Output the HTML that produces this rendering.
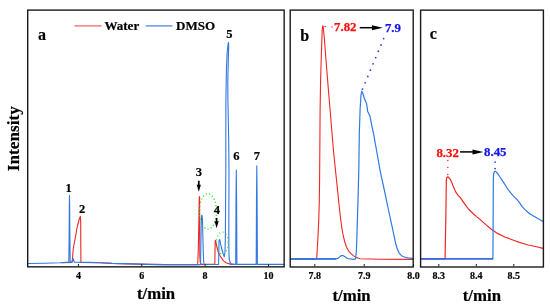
<!DOCTYPE html>
<html><head><meta charset="utf-8"><title>Chromatogram</title>
<style>
html,body{margin:0;padding:0;background:#fff;}
body{width:550px;height:308px;overflow:hidden;}
svg{display:block;}
text{font-family:"Liberation Serif", serif;font-weight:bold;stroke:#000;stroke-width:0.2px;paint-order:stroke;}
</style></head><body>
<svg width="550" height="308" viewBox="0 0 550 308">
<rect x="0" y="0" width="550" height="308" fill="#fff"/>
<polyline points="62.00,262.70 71.50,262.40 72.30,262.00 72.70,256.00 73.10,250.00 73.90,245.00 74.90,240.00 75.80,235.00 76.60,230.00 77.70,225.00 79.00,220.00 79.80,217.50 80.40,216.40 80.70,222.00 80.90,262.30 82.00,262.50 100.00,262.70 112.00,263.40 130.00,263.90 148.00,264.35 165.00,264.60 197.60,264.60 198.00,258.00 198.40,245.00 198.80,225.00 199.10,205.00 199.30,196.60 199.60,197.20 199.70,225.00 199.80,255.00 200.20,262.50 201.50,264.40 214.80,264.40 215.20,241.00 215.60,240.30 216.50,245.00 218.00,251.40 220.00,255.80 223.20,260.60 226.00,262.80 231.00,264.35 234.00,264.40" fill="none" stroke="#ee2626" stroke-width="1.1" stroke-linejoin="round" stroke-linecap="round" />
<polyline points="28.50,263.50 45.00,263.30 60.00,262.80 66.00,262.40 68.80,262.30 69.10,240.00 69.35,205.00 69.50,195.30 69.65,205.00 69.90,240.00 70.20,262.30 71.50,262.50 72.80,259.50 73.40,258.80 74.20,262.20 76.00,262.30 84.00,262.40 90.00,262.40 100.00,262.70 112.00,263.40 130.00,263.90 148.00,264.35 165.00,264.60 200.50,264.60 200.80,250.00 201.10,230.00 201.50,216.00 201.90,215.20 202.40,218.00 202.70,230.00 203.20,250.00 203.70,262.00 204.20,264.50 218.60,264.50 219.00,241.00 219.70,239.40 221.00,246.00 223.20,254.00 224.30,256.80 225.00,252.00 225.30,240.00 225.50,220.00 225.80,170.00 225.80,140.00 225.90,100.00 226.40,70.00 227.00,55.00 227.80,46.00 228.40,42.30 228.70,45.00 228.30,60.00 227.80,80.00 227.90,100.00 228.70,140.00 229.00,170.00 228.80,230.00 228.90,252.00 229.20,259.00 230.00,262.40 231.30,263.90 233.00,264.40 235.70,264.40 236.00,200.00 236.30,170.10 236.60,200.00 236.90,264.40 256.20,264.40 256.50,200.00 256.80,165.70 257.10,200.00 257.40,264.40 283.50,264.40" fill="none" stroke="#3278e2" stroke-width="1.1" stroke-linejoin="round" stroke-linecap="round" />
<ellipse cx="207.9" cy="211.5" rx="8.6" ry="17.7" fill="none" stroke="#22e022" stroke-width="1.2" stroke-dasharray="1.2 2.2"/>
<ellipse cx="222.3" cy="243" rx="5.9" ry="11" fill="none" stroke="#22e022" stroke-width="1.1" stroke-dasharray="1.1 2.6"/>
<line x1="198.8" y1="180.8" x2="198.8" y2="185.3" stroke="#000" stroke-width="1.7"/><polygon points="196.70000000000002,184.8 200.9,184.8 198.8,191.8" fill="#000"/>
<line x1="216.6" y1="217.9" x2="216.6" y2="221.8" stroke="#000" stroke-width="1.7"/><polygon points="214.5,221.3 218.7,221.3 216.6,228.3" fill="#000"/>
<text x="68.7" y="191.5" font-size="12.5" fill="#000" text-anchor="middle">1</text>
<text x="82.1" y="212.5" font-size="12.5" fill="#000" text-anchor="middle">2</text>
<text x="198.9" y="176" font-size="12.5" fill="#000" text-anchor="middle">3</text>
<text x="216.9" y="214" font-size="12.5" fill="#000" text-anchor="middle">4</text>
<text x="229.4" y="37.8" font-size="12.5" fill="#000" text-anchor="middle">5</text>
<text x="236.3" y="160.3" font-size="12.5" fill="#000" text-anchor="middle">6</text>
<text x="256.9" y="159.5" font-size="12.5" fill="#000" text-anchor="middle">7</text>
<line x1="74.4" y1="25.9" x2="101.6" y2="25.9" stroke="#f25a5a" stroke-width="1.2"/>
<text x="104.5" y="30.4" font-size="13" fill="#000" text-anchor="start">Water</text>
<line x1="145.7" y1="25.9" x2="172.4" y2="25.9" stroke="#4a88e6" stroke-width="1.3"/>
<text x="176.1" y="30.4" font-size="13" fill="#000" text-anchor="start">DMSO</text>
<text x="38" y="40" font-size="16" fill="#000" text-anchor="start">a</text>
<text x="0" y="0" font-size="17.2" text-anchor="middle" transform="translate(18.6,138.7) rotate(-90)">Intensity</text>
<line x1="78.40" y1="266.5" x2="78.40" y2="264.0" stroke="#1a1a1a" stroke-width="1"/>
<text x="78.40" y="278.7" font-size="10" fill="#000" text-anchor="middle">4</text>
<line x1="141.76" y1="266.5" x2="141.76" y2="264.0" stroke="#1a1a1a" stroke-width="1"/>
<text x="141.76" y="278.7" font-size="10" fill="#000" text-anchor="middle">6</text>
<line x1="205.12" y1="266.5" x2="205.12" y2="264.0" stroke="#1a1a1a" stroke-width="1"/>
<text x="205.12" y="278.7" font-size="10" fill="#000" text-anchor="middle">8</text>
<line x1="268.48" y1="266.5" x2="268.48" y2="264.0" stroke="#1a1a1a" stroke-width="1"/>
<text x="268.48" y="278.7" font-size="10" fill="#000" text-anchor="middle">10</text>
<text x="156.1" y="298.7" font-size="16.8" fill="#000" text-anchor="middle">t/min</text>
<polyline points="290.80,259.10 316.20,259.10 316.70,258.60 317.80,240.00 318.80,218.90 319.30,200.00 319.60,180.00 319.90,140.00 320.10,110.00 320.60,80.00 321.50,50.00 322.20,30.00 322.70,25.80 323.20,26.50 324.50,40.00 326.00,60.00 328.00,85.00 330.10,110.00 333.40,150.00 336.50,180.00 339.00,204.20 340.50,218.00 342.00,229.00 343.30,236.00 344.70,241.70 346.50,247.00 348.50,250.80 350.50,253.20 353.30,255.60 356.50,257.60 360.00,258.80 380.00,259.20 413.00,259.40" fill="none" stroke="#ee2626" stroke-width="1.1" stroke-linejoin="round" stroke-linecap="round" />
<polyline points="290.80,258.90 336.00,258.90 338.00,258.40 340.00,256.60 341.50,255.60 343.00,255.60 345.00,256.80 347.50,258.50 353.50,259.30 355.60,258.90 356.30,252.00 356.80,240.00 357.40,220.00 358.00,200.00 358.80,170.00 359.30,133.80 360.10,109.40 361.00,95.00 361.80,91.20 363.00,94.00 364.20,98.00 366.60,103.70 367.80,111.80 369.90,115.90 371.80,125.70 373.60,133.80 377.00,153.00 380.40,172.20 384.30,190.00 388.40,209.50 392.10,226.60 395.70,243.70 397.50,249.50 399.40,253.40 401.50,255.70 404.30,257.00 408.00,257.90 412.80,258.30" fill="none" stroke="#3278e2" stroke-width="1.2" stroke-linejoin="round" stroke-linecap="round" />
<line x1="290.8" y1="258.95" x2="336" y2="258.95" stroke="#3278e2" stroke-width="1.7"/>
<text x="300.2" y="41" font-size="16" fill="#000" text-anchor="start">b</text>
<circle cx="325.2" cy="26.6" r="0.75" fill="#ee2626"/>
<circle cx="332" cy="26.9" r="0.75" fill="#ee2626"/>
<text x="334.1" y="31.1" font-size="12.8" fill="#f81010" text-anchor="start" style="stroke:#f81010;stroke-width:0.25px">7.82</text>
<line x1="359.7" y1="27.7" x2="374" y2="27.7" stroke="#000" stroke-width="1.5"/>
<polygon points="372,25.2 382.8,27.7 372,30.2" fill="#000"/>
<text x="384.9" y="32.3" font-size="12.8" fill="#1414f0" text-anchor="start" style="stroke:#1414f0;stroke-width:0.25px">7.9</text>
<circle cx="383.60" cy="38.60" r="0.9" fill="#2a3ae8"/>
<circle cx="380.96" cy="44.91" r="0.9" fill="#2a3ae8"/>
<circle cx="378.33" cy="51.23" r="0.9" fill="#2a3ae8"/>
<circle cx="375.69" cy="57.54" r="0.9" fill="#2a3ae8"/>
<circle cx="373.05" cy="63.85" r="0.9" fill="#2a3ae8"/>
<circle cx="370.41" cy="70.16" r="0.9" fill="#2a3ae8"/>
<circle cx="367.77" cy="76.47" r="0.9" fill="#2a3ae8"/>
<circle cx="365.14" cy="82.79" r="0.9" fill="#2a3ae8"/>
<circle cx="362.50" cy="89.10" r="0.9" fill="#2a3ae8"/>
<line x1="314.80" y1="266.4" x2="314.80" y2="264.0" stroke="#1a1a1a" stroke-width="1"/>
<text x="314.80" y="278.6" font-size="10" fill="#000" text-anchor="middle">7.8</text>
<line x1="364.20" y1="266.4" x2="364.20" y2="264.0" stroke="#1a1a1a" stroke-width="1"/>
<text x="364.20" y="278.6" font-size="10" fill="#000" text-anchor="middle">7.9</text>
<line x1="413.60" y1="266.4" x2="413.60" y2="264.0" stroke="#1a1a1a" stroke-width="1"/>
<text x="413.60" y="278.6" font-size="10" fill="#000" text-anchor="middle">8.0</text>
<text x="351.6" y="300.5" font-size="16.8" fill="#000" text-anchor="middle">t/min</text>
<polyline points="421.00,259.00 445.10,259.00 445.40,240.00 445.80,220.00 446.20,190.00 446.40,180.00 446.80,177.50 447.60,176.90 448.60,177.40 450.50,179.70 451.80,182.50 452.90,185.40 454.60,189.40 456.20,192.70 458.20,195.40 460.30,197.60 464.30,203.30 468.40,209.00 473.30,213.80 476.50,216.60 480.00,219.40 485.80,224.60 491.00,229.00 497.50,233.40 504.80,237.00 510.70,239.20 515.00,240.80 519.40,242.40 524.00,243.80 528.20,245.00 535.50,246.50 543.00,248.30" fill="none" stroke="#ee2626" stroke-width="1.2" stroke-linejoin="round" stroke-linecap="round" />
<polyline points="421.00,258.90 492.90,258.90 493.10,230.00 493.30,180.00 493.60,174.00 494.40,171.60 495.30,171.30 496.30,172.00 497.70,173.60 499.60,176.50 501.50,179.30 503.40,182.10 505.80,186.00 508.10,189.70 510.50,192.70 512.80,195.30 515.00,197.60 517.50,200.00 520.00,203.30 522.20,206.60 525.00,209.60 527.90,212.30 530.50,214.30 533.50,216.00 536.50,217.70 539.20,219.20 543.30,221.70" fill="none" stroke="#3278e2" stroke-width="1.2" stroke-linejoin="round" stroke-linecap="round" />
<line x1="421" y1="258.95" x2="492.9" y2="258.95" stroke="#2f62dc" stroke-width="1.3"/>
<text x="429.8" y="39.4" font-size="16" fill="#000" text-anchor="start">c</text>
<text x="436.4" y="156.9" font-size="12.8" fill="#f81010" text-anchor="start" style="stroke:#f81010;stroke-width:0.25px">8.32</text>
<line x1="460" y1="151.9" x2="474" y2="151.9" stroke="#000" stroke-width="1.5"/>
<polygon points="472.5,149.4 483.4,151.9 472.5,154.4" fill="#000"/>
<text x="484.1" y="156.1" font-size="12.8" fill="#1414f0" text-anchor="start" style="stroke:#1414f0;stroke-width:0.25px">8.45</text>
<circle cx="447.8" cy="160.5" r="0.75" fill="#ee2626"/>
<circle cx="447.8" cy="167.5" r="0.75" fill="#ee2626"/>
<circle cx="447.8" cy="174.4" r="0.75" fill="#ee2626"/>
<circle cx="495.1" cy="162.1" r="0.9" fill="#2a3ae8"/>
<circle cx="495.1" cy="168.6" r="0.9" fill="#2a3ae8"/>
<line x1="438.80" y1="266.4" x2="438.80" y2="264.0" stroke="#1a1a1a" stroke-width="1"/>
<text x="438.80" y="278.8" font-size="10" fill="#000" text-anchor="middle">8.3</text>
<line x1="476.30" y1="266.4" x2="476.30" y2="264.0" stroke="#1a1a1a" stroke-width="1"/>
<text x="476.30" y="278.8" font-size="10" fill="#000" text-anchor="middle">8.4</text>
<line x1="513.80" y1="266.4" x2="513.80" y2="264.0" stroke="#1a1a1a" stroke-width="1"/>
<text x="513.80" y="278.8" font-size="10" fill="#000" text-anchor="middle">8.5</text>
<text x="481.9" y="300.5" font-size="16.8" fill="#000" text-anchor="middle">t/min</text>
<rect x="27.7" y="10.1" width="256.45" height="256.75" fill="none" stroke="#1a1a1a" stroke-width="1.4"/>
<rect x="290.2" y="10.1" width="123.00" height="256.90" fill="none" stroke="#1a1a1a" stroke-width="1.4"/>
<rect x="420.6" y="10.15" width="122.80" height="256.85" fill="none" stroke="#1a1a1a" stroke-width="1.4"/>
</svg>
</body></html>
